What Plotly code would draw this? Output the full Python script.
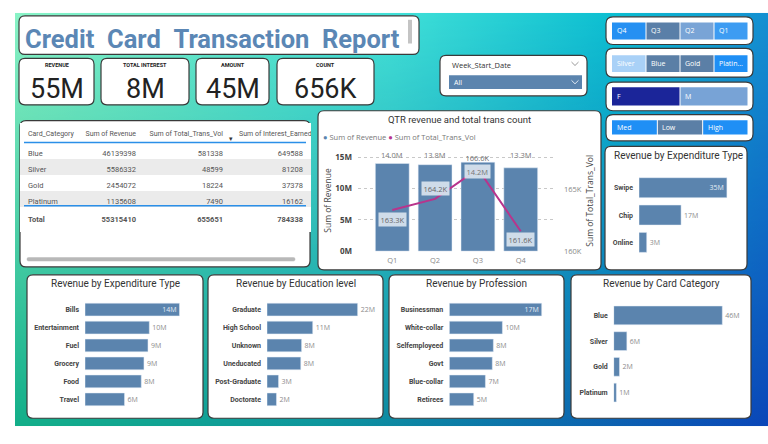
import base64
import plotly.graph_objects as go

W, H = 768, 444


def X(px):
    return px / W


def Y(py):
    return 1 - py / H


# ---------------- data ----------------
report_title = "Credit Card Transaction Report"
kpi_labels = ["REVENUE", "TOTAL INTEREST", "AMOUNT", "COUNT"]
kpi_values = ["55M", "8M", "45M", "656K"]

quarters = ["Q1", "Q2", "Q3", "Q4"]
qtr_revenue = [14.0e6, 13.8e6, 14.2e6, 13.3e6]
qtr_trans_vol = [163.3e3, 164.2e3, 166.6e3, 161.6e3]
rev_ticks = [0, 5e6, 10e6, 15e6]
rev_ticktext = ["0M", "5M", "10M", "15M"]
vol_ticks = [160e3, 165e3]
vol_ticktext = ["160K", "165K"]

table_header = ["Card_Category", "Sum of Revenue", "Sum of Total_Trans_Vol", "Sum of Interest_Earned"]
card_categories = ["Blue", "Silver", "Gold", "Platinum"]
card_revenue = [46139398, 5586332, 2454072, 1135608]
card_trans_vol = [581338, 48599, 18224, 7490]
card_interest = [649588, 81208, 37378, 16162]
table_totals = [55315410, 655651, 784338]

use_chip_cats = ["Swipe", "Chip", "Online"]
use_chip_rev = [35.3, 16.9, 3.1]  # millions

exp_cats = ["Bills", "Entertainment", "Fuel", "Grocery", "Food", "Travel"]
exp_rev = [14.1, 9.6, 9.4, 8.8, 8.4, 5.9]

edu_cats = ["Graduate", "High School", "Unknown", "Uneducated", "Post-Graduate", "Doctorate"]
edu_rev = [22.0, 11.1, 8.4, 8.2, 2.8, 2.3]

prof_cats = ["Businessman", "White-collar", "Selfemployeed", "Govt", "Blue-collar", "Retirees"]
prof_rev = [17.4, 10.0, 8.3, 8.1, 6.8, 4.6]

slicer_quarter = ["Q4", "Q3", "Q2", "Q1"]
slicer_card = ["Silver", "Blue", "Gold", "Platin..."]
slicer_gender = ["F", "M"]
slicer_income = ["Med", "Low", "High"]
week_slicer_title = "Week_Start_Date"
week_slicer_value = "All"

# ---------------- styles ----------------
BAR = "#5b84ae"
LINE = "#b8348c"
FONT = "Open Sans"
TFONT = "Roboto"
BORDER = "#3a3a3a"

shapes = []
annotations = []


def rrect(x0, y0, x1, y1, r=6, fill="white", line=BORDER, lw=1.2):
    p = (f"M {X(x0 + r)},{Y(y0)} L {X(x1 - r)},{Y(y0)} Q {X(x1)},{Y(y0)} {X(x1)},{Y(y0 + r)} "
         f"L {X(x1)},{Y(y1 - r)} Q {X(x1)},{Y(y1)} {X(x1 - r)},{Y(y1)} "
         f"L {X(x0 + r)},{Y(y1)} Q {X(x0)},{Y(y1)} {X(x0)},{Y(y1 - r)} "
         f"L {X(x0)},{Y(y0 + r)} Q {X(x0)},{Y(y0)} {X(x0 + r)},{Y(y0)} Z")
    shapes.append(dict(type="path", path=p, xref="paper", yref="paper", fillcolor=fill,
                       line=dict(color=line, width=lw), layer="below"))


def rect(x0, y0, x1, y1, fill):
    shapes.append(dict(type="rect", xref="paper", yref="paper", x0=X(x0), x1=X(x1),
                       y0=Y(y1), y1=Y(y0), fillcolor=fill, line=dict(width=0), layer="below"))


def hline(x0, x1, y, color, w=1.5):
    shapes.append(dict(type="line", xref="paper", yref="paper", x0=X(x0), x1=X(x1),
                       y0=Y(y), y1=Y(y), line=dict(color=color, width=w), layer="above"))


def chevron(cx, cy, color, s=3.5):
    p = f"M {X(cx - s)},{Y(cy - s / 2)} L {X(cx)},{Y(cy + s / 2)} L {X(cx + s)},{Y(cy - s / 2)}"
    shapes.append(dict(type="path", path=p, xref="paper", yref="paper",
                       line=dict(color=color, width=1), layer="above"))


def text(x, y, s, size=8, color="#333", xanchor="center", bold=False, family=FONT, angle=0):
    annotations.append(dict(x=X(x), y=Y(y), xref="paper", yref="paper", text=s, showarrow=False,
                            xanchor=xanchor, yanchor="middle", textangle=angle,
                            font=dict(size=size, color=color, family=family,
                                      weight="bold" if bold else "normal")))


# ---------------- background ----------------
svg = """<svg xmlns="http://www.w3.org/2000/svg" width="753" height="418" viewBox="0 0 753 418" preserveAspectRatio="none">
<defs>
<linearGradient id="t" x1="0" y1="0" x2="1" y2="0">
<stop offset="0" stop-color="#8af3c6"/><stop offset="0.5" stop-color="#42e1d8"/>
<stop offset="0.8" stop-color="#0cbfd2"/><stop offset="1" stop-color="#1590d2"/></linearGradient>
<linearGradient id="b" x1="0" y1="0" x2="1" y2="0">
<stop offset="0" stop-color="#12ae88"/><stop offset="0.4" stop-color="#0d969c"/>
<stop offset="0.7" stop-color="#0c6cac"/><stop offset="1" stop-color="#0a46b8"/></linearGradient>
<linearGradient id="v" x1="0" y1="0" x2="0" y2="1">
<stop offset="0" stop-color="black"/><stop offset="1" stop-color="white"/></linearGradient>
<mask id="m"><rect width="753" height="418" fill="url(#v)"/></mask>
</defs>
<rect width="753" height="418" fill="url(#t)"/>
<rect width="753" height="418" fill="url(#b)" mask="url(#m)"/>
</svg>"""
bg_src = "data:image/svg+xml;base64," + base64.b64encode(svg.encode()).decode()

# ---------------- cards ----------------
# title
rrect(19, 16, 419, 55)
rect(408, 20, 412, 44, "#c4c4c4")
text(23, 39.5, "<b>" + report_title.replace(" ", "\u00a0\u00a0") + "</b>", size=25.5, color="#5b87b5",
     xanchor="left", family=TFONT)

# KPI cards
kpi_boxes = [(19, 94), (101, 189), (196, 269), (277, 374)]
for (a, b), lab, val in zip(kpi_boxes, kpi_labels, kpi_values):
    rrect(a, 59, b, 106)
    text((a + b) / 2, 65.5, lab, size=5.5, color="#222", bold=True, family=TFONT)
    text((a + b) / 2, 90.5, val, size=27, color="#222", family=TFONT)

# week slicer
rrect(440, 56, 587, 97)
text(450, 65.5, week_slicer_title, size=7.5, color="#333", xanchor="left")
chevron(575, 64.5, "#999")
rect(449, 76, 582, 90, BAR)
text(452, 83, week_slicer_value, size=7, color="white", xanchor="left")
chevron(575, 83, "#dfe8f2")

# right slicers
slicers = [
    (slicer_quarter, (17, 45), (22.7, 40), ["#2590f2", "#5a7fa8", "#79a4d6", "#3d9cf2"]),
    (slicer_card, (49, 78), (56, 72.7), ["#a9d1f7", "#5b7fa6", "#5b7fa6", "#1f8ff5"]),
    (slicer_gender, (83, 112), (88.3, 106.7), ["#1b2599", "#78a3d6"]),
    (slicer_income, (116, 142.5), (121.7, 136), ["#1f8ff5", "#5b7fa6", "#1f8ff5"]),
]
for labels, (by0, by1), (iy0, iy1), cols in slicers:
    rrect(606, by0, 753, by1, r=7)
    n = len(labels)
    x0, x1 = 612, 748
    wdt = (x1 - x0) / n
    for i, (lab, c) in enumerate(zip(labels, cols)):
        bx0 = x0 + i * wdt
        rect(bx0 + (0.5 if i else 0), iy0, bx0 + wdt - 0.5, iy1, c)
        text(bx0 + 3, (iy0 + iy1) / 2, lab, size=7, color="white", xanchor="left")

# table card
rrect(20, 122, 310, 270)
hline(24, 306, 144, "#2b8fe8")
hline(24, 306, 208, "#2b8fe8")
text(231, 140, "▾", size=7, color="#333")
rrect(27, 260.5, 295, 264, r=1.5, fill="#b8b8b8", line="#b8b8b8", lw=0.5)

# QTR card
rrect(318, 112, 601, 273)
text(459, 121, "QTR revenue and total trans count", size=9.5, color="#333", family=TFONT)
text(321, 138.5,
     f"<span style='color:{BAR}'>●</span> Sum of Revenue <span style='color:{LINE}'>●</span> Sum of Total_Trans_Vol",
     size=7.5, color="#777", xanchor="left")
text(328, 203, "Sum of Revenue", size=8.5, color="#444", angle=-90)
text(590, 203, "Sum of Total_Trans_Vol", size=8.5, color="#444", angle=-90)

# right expenditure card
rrect(605, 148, 747, 273)
text(678, 157, "Revenue by Expenditure Type", size=10, color="#333", family=TFONT)

# bottom cards
bottom = [(27, 203, "Revenue by Expenditure Type"), (208, 383, "Revenue by Education level"),
          (389, 564, "Revenue by Profession"), (571, 751, "Revenue by Card Category")]
for a, b, t in bottom:
    rrect(a, 278, b, 423)
    text((a + b) / 2, 286.5, t, size=10, color="#333", family=TFONT)

# ---------------- traces ----------------
traces = []

# QTR combo
traces.append(go.Bar(x=quarters, y=qtr_revenue, marker_color=BAR, width=0.79,
                     xaxis="x", yaxis="y", hoverinfo="skip", showlegend=False))
traces.append(go.Scatter(x=quarters, y=qtr_trans_vol, mode="lines", line=dict(color=LINE, width=2),
                         xaxis="x", yaxis="y2", hoverinfo="skip", showlegend=False))

LBL_BG = "rgba(214,224,236,0.95)"
for i, (q, v) in enumerate(zip(quarters, qtr_revenue)):
    if v == max(qtr_revenue):
        annotations.append(dict(x=q, y=v, xref="x", yref="y", text=f"{v / 1e6:.1f}M", yshift=-9,
                                showarrow=False, bgcolor=LBL_BG, borderpad=1.5,
                                font=dict(size=7.5, color="#777", family=FONT)))
    else:
        annotations.append(dict(x=q, y=max(qtr_revenue) * 1.082, xref="x", yref="y",
                                text=f"{v / 1e6:.1f}M", showarrow=False,
                                font=dict(size=7.5, color="#777", family=FONT)))
vol_shift = [-9, 10, 11, -8]
for i, (q, v) in enumerate(zip(quarters, qtr_trans_vol)):
    boxed = v != max(qtr_trans_vol)
    annotations.append(dict(x=q, y=v, xref="x", yref="y2", text=f"{v / 1e3:.1f}K", yshift=vol_shift[i],
                            showarrow=False, bgcolor=LBL_BG if boxed else "rgba(0,0,0,0)", borderpad=1.5,
                            font=dict(size=7.5, color="#666", family=FONT)))

# table
cell_vals = [card_categories + ["<b>Total</b>"],
             [str(v) for v in card_revenue] + [f"<b>{table_totals[0]}</b>"],
             [str(v) for v in card_trans_vol] + [f"<b>{table_totals[1]}</b>"],
             [str(v) for v in card_interest] + [f"<b>{table_totals[2]}</b>"]]
row_fill = ["white", "#ebebeb", "white", "#ebebeb", "white"]
traces.append(go.Table(
    domain=dict(x=[X(20), X(311)], y=[Y(248), Y(124)]),
    columnwidth=[58, 66, 87, 80],
    header=dict(values=[h.replace(" ", "\u00a0") for h in table_header],
                align=["left", "right", "right", "left"], height=20,
                fill=dict(color="white"), line=dict(color="white", width=0),
                font=dict(size=7, color="#555", family=TFONT)),
    cells=dict(values=cell_vals, align=["left", "right", "right", "right"], height=16,
               fill=dict(color=[row_fill] * 4), line=dict(color="white", width=0),
               font=dict(size=7.5, color="#555", family=TFONT)),
))


def hbar(cats, vals, xa, ya, width, inside_first=True):
    pos = ["inside"] + ["outside"] * (len(vals) - 1) if inside_first else ["outside"] * len(vals)
    return go.Bar(x=vals, y=cats, orientation="h", marker_color=BAR, width=width,
                  xaxis=xa, yaxis=ya, text=[f"{v:.0f}M" for v in vals], textposition=pos,
                  insidetextanchor="end", cliponaxis=False,
                  insidetextfont=dict(size=7, color="#e4ecf5", family=FONT),
                  outsidetextfont=dict(size=7, color="#8c8c8c", family=FONT),
                  hoverinfo="skip", showlegend=False)


traces.append(hbar(use_chip_cats, use_chip_rev, "x2", "y3", 0.73))
traces.append(hbar(exp_cats, exp_rev, "x3", "y4", 0.71))
traces.append(hbar(edu_cats, edu_rev, "x4", "y5", 0.71, inside_first=False))
traces.append(hbar(prof_cats, prof_rev, "x5", "y6", 0.71))
traces.append(hbar(card_categories, [v / 1e6 for v in card_revenue], "x6", "y7", 0.73, inside_first=False))

fig = go.Figure(traces)

layout = dict(
    width=W, height=H, margin=dict(l=0, r=0, t=0, b=0),
    paper_bgcolor="white", plot_bgcolor="rgba(0,0,0,0)",
    showlegend=False, shapes=shapes, annotations=annotations,
    uniformtext=dict(minsize=7, mode="show"),
    images=[dict(source=bg_src, xref="paper", yref="paper", x=X(15), y=Y(13),
                 sizex=(768 - 15) / W, sizey=(431 - 13) / H, xanchor="left", yanchor="top",
                 sizing="stretch", layer="below")],
    xaxis=dict(domain=[X(358), X(555)], range=[-0.8, 3.8], anchor="y", showgrid=False,
               zeroline=False, showline=False, ticks="", fixedrange=True, ticklabelstandoff=3,
               tickfont=dict(size=7.5, color="#888", family=FONT)),
    yaxis=dict(domain=[Y(254), Y(152)], range=[0, 16.1e6], anchor="x", tickvals=rev_ticks,
               ticktext=rev_ticktext, showgrid=True, gridcolor="#c8c8c8", griddash="dot",
               zeroline=False, showline=False, ticks="", ticklabelstandoff=5, fixedrange=True,
               tickfont=dict(size=8, color="#444", family=FONT, weight="bold")),
    yaxis2=dict(overlaying="y", side="right", anchor="x", range=[160e3, 168.1e3], tickvals=vol_ticks,
                ticktext=vol_ticktext, showgrid=False, zeroline=False, showline=False, ticks="",
                ticklabelstandoff=8, fixedrange=True,
                tickfont=dict(size=7.5, color="#888", family=FONT)),
)

hb = [
    # (xaxis, yaxis, x start px, x end px, px per unit, y top px, y bottom px)
    ("x2", "y3", 639, 744, 2.49, 176, 259),
    ("x3", "y4", 85, 200, 6.7, 304, 413),
    ("x4", "y5", 267, 380, 4.12, 304, 413),
    ("x5", "y6", 449.3, 562, 5.31, 304, 413),
    ("x6", "y7", 613.7, 748, 2.354, 306, 410),
]
for xa, ya, xs, xe, ppu, yt, yb in hb:
    xn = "xaxis" + xa[1:]
    yn = "yaxis" + ya[1:]
    layout[xn] = dict(domain=[X(xs), X(xe)], range=[0, (xe - xs) / ppu], anchor=ya, visible=False,
                      fixedrange=True)
    layout[yn] = dict(domain=[Y(yb), Y(yt)], anchor=xa, autorange="reversed", showgrid=False,
                      zeroline=False, showline=False, ticks="", ticklabelstandoff=5, fixedrange=True,
                      tickfont=dict(size=7, color="#444", family=TFONT, weight="bold"))

fig.update_layout(**layout)
fig.write_html("out.html")
